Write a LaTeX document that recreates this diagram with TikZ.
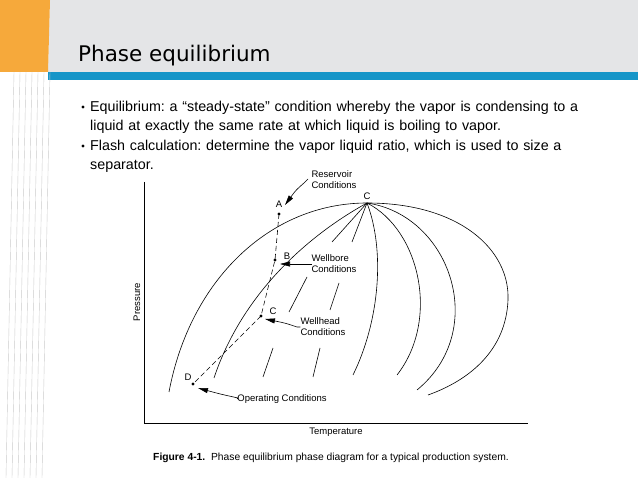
\documentclass[tikz,border=0pt]{standalone}
\usepackage{fontspec}
\setmainfont{Liberation Sans}
\newfontfamily\titlefont{DejaVu Sans}
\usetikzlibrary{arrows.meta}
\definecolor{orng}{HTML}{F6A93B}
\definecolor{band}{HTML}{E4E5E7}
\definecolor{bluebar}{HTML}{1595C8}
\frenchspacing
\begin{document}
\begin{tikzpicture}[x=1pt,y=-1pt,
  crv/.style={line width=0.6pt},
  dsh/.style={line width=0.6pt,dash pattern=on 5pt off 3pt},
  ptr/.style={line width=0.6pt,-{Triangle[length=10pt,width=5pt]}},
  lbl/.style={font=\fontsize{9.5}{11}\selectfont,align=left,inner sep=0pt},
  bul/.style={font=\fontsize{14.3}{19}\selectfont,align=left,anchor=north west,inner sep=0pt}]
\useasboundingbox (0,0) rectangle (638,478);
\fill[white] (0,0) rectangle (638,478);
\fill[band] (50,0) -- (638,0) -- (638,72) -- (48,72) -- cycle;
\fill[orng] (0,0) -- (50,0) -- (48,72) -- (0,72) -- cycle;
\fill[bluebar] (48,72) rectangle (638,80);
\foreach \x in {14,20,26,32,38,44,50}
  \draw[gray!40,line width=0.4pt] (\x,72) -- (\x-8,478);
\node[anchor=base west,inner sep=0pt,font=\titlefont\fontsize{21.5}{24}\selectfont] (title) at (78,62) {Phase equilibrium};
\fill (83,107) circle (1.6pt) coordinate (b1);
\node[bul,text width=540pt] (t1) at (90,101) {Equilibrium: a “steady-state” condition whereby the vapor is condensing to a\\liquid at exactly the same rate at which liquid is boiling to vapor.};
\fill (83,146) circle (1.6pt) coordinate (b2);
\node[bul,text width=540pt] (t2) at (90,140) {Flash calculation: determine the vapor liquid ratio, which is used to size a\\separator.};
% axes
\coordinate (ytop) at (144,182);
\coordinate (org) at (144,423);
\coordinate (xend) at (528,423);
\draw[line width=0.6pt] (ytop) -- (org) -- (xend);
\node[lbl,rotate=90] (pres) at (137,302) {Pressure};
\node[lbl] (temp) at (336,432) {Temperature};
% envelope
\coordinate (C) at (367,203);
\draw[crv] (169,392) .. controls (190,280) and (270,203) .. (C) .. controls (460,203) and (510,250) .. (508,300) .. controls (506,350) and (470,380) .. (428,395);
\draw[crv] (C) .. controls (300,240) and (240,300) .. (214,378);
\draw[crv] (C) -- (332,242) (307,277) -- (289,312) (273,348) -- (263,377);
\draw[crv] (C) -- (352,242) (339,283) -- (330,310) (320,348) -- (313,377);
\draw[crv] (C) .. controls (385,250) and (380,320) .. (353,375);
\draw[crv] (C) .. controls (420,230) and (440,320) .. (397,375);
\draw[crv] (C) .. controls (450,215) and (490,330) .. (417,390);
\node[lbl] (Cl) at (367,196) {C};
% points
\fill (279,214) circle (1.7pt) coordinate (A);
\fill (275,260) circle (1.7pt) coordinate (B);
\fill (261,316) circle (1.7pt) coordinate (Cp);
\fill (193,384) circle (1.7pt) coordinate (D);
\draw[dsh] (A) -- (B) -- (Cp) -- (D);
\node[lbl] (Al) at (279,204) {A};
\node[lbl] (Bl) at (287,256) {B};
\node[lbl] (Cpl) at (273,311) {C};
\node[lbl] (Dl) at (188,377) {D};
% labels
\node[lbl] (res) at (334,180) {Reservoir\\Conditions};
\node[lbl] (wb) at (334,264) {Wellbore\\Conditions};
\node[lbl] (wh) at (323,327) {Wellhead\\Conditions};
\node[lbl] (op) at (282,399) {Operating Conditions};
\coordinate (r0) at (308,179);
\draw[ptr] (r0) -- (304,183) .. controls (296,190) .. (285,205);
\draw[ptr] (312,264) -- (280,264);
\draw[ptr] (wh.west) -- (297,327) .. controls (285,323) .. (265,319);
\draw[ptr] (op.west) -- (238,398) .. controls (220,394) .. (198,388);
\node[font=\fontsize{10.3}{12}\selectfont,inner sep=0pt] (cap) at (331,458) {\textbf{Figure 4-1.}\ \ Phase equilibrium phase diagram for a typical production system.};
\end{tikzpicture}
\end{document}
